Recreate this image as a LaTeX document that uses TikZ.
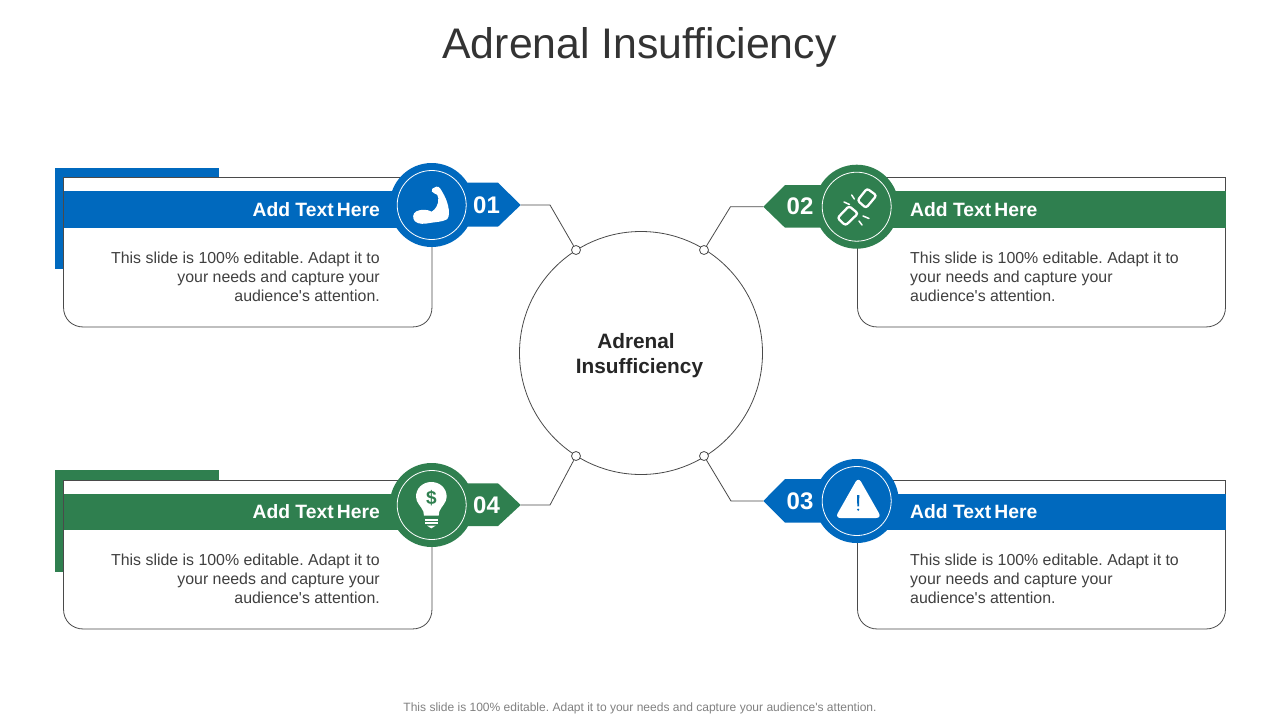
\documentclass[tikz,border=0pt]{standalone}
\usepackage{fontspec}
\setmainfont[Ligatures=TeXOff]{Liberation Sans}
\frenchspacing
\definecolor{cblue}{HTML}{0069BE}
\definecolor{cgreen}{HTML}{2F7F4F}
\definecolor{ink}{HTML}{404040}
\definecolor{edge}{HTML}{4A4A4A}
\newcommand{\addtext}{Add Text\hspace{-2.2pt} Here}
\newcommand{\bodytext}[1]{This slide is 100\% editable. Adapt it to\\your needs and capture your\\audience's attention.}
\tikzset{
 cardline/.style={draw=edge,fill=white,line width=0.8pt},
 wire/.style={draw=edge,line width=0.8pt},
 dot/.style={circle,draw=edge,fill=white,line width=0.8pt,minimum size=9pt,inner sep=0pt},
 hub/.style={circle,draw=edge,fill=white,line width=0.8pt,minimum size=243pt,inner sep=0pt},
 badge/.style={circle,minimum size=84pt,inner sep=0pt},
 ring/.style={circle,draw=white,line width=0.8pt,minimum size=69pt,inner sep=0pt},
 head/.style={text=white,font=\fontsize{19.3}{24}\selectfont\bfseries},
 num/.style={text=white,font=\fontsize{24}{28}\selectfont\bfseries},
 body/.style={text=ink,font=\fontsize{15.9}{19}\selectfont,inner sep=0pt},
 icon/.style={fill=white,draw=none},
 iconline/.style={draw=white,line width=1.5pt,line cap=round,line join=round},
 linkline/.style={draw=white,line width=2.3pt,rounded corners=2.5pt},
}
\begin{document}
\begin{tikzpicture}[x=1pt,y=-1pt]
\useasboundingbox (0,0) rectangle (1280,720);
\node[text=black!80,font=\fontsize{42.8}{52}\selectfont,inner sep=0pt] (title) at (639.5,47.5) {Adrenal Insufficiency};
\node[text=black!50,font=\fontsize{12.03}{14}\selectfont,inner sep=0pt] (foot) at (640,708) {This slide is 100\% editable. Adapt it to your needs and capture your audience's attention.};

% hub
\node[hub] (center) at (641,353) {};
\node[align=center,text=black!85,font=\fontsize{20.8}{25}\selectfont\bfseries,inner sep=0pt] (centertext) at (639.5,355.5) {Adrenal\hbox to 7pt{}\\Insufficiency};

% card 1
\fill[cblue] (55,168) rectangle (219,269);
\path[cardline] (63.5,177.5) -- (63.5,307) .. controls (63.5,319) and (72,327) .. (83.5,327) -- (412,327) .. controls (424,327) and (432,319) .. (432,307) -- (432,177.5) -- cycle;
\fill[cblue] (64,191) rectangle (400,228);
\fill[cblue] (450,182.7) -- (498,182.7) -- (520.7,205) -- (498,226.7) -- (450,226.7) -- cycle;
\coordinate (tip1) at (520.7,205);
\node[badge,fill=cblue] (b1) at (431.7,205) {};
\node[ring] (r1) at (b1) {};
\node[head,anchor=east,inner sep=0pt] (h1) at (380,209.7) {\addtext};
\node[num] (n1) at (486.5,205.5) {01};
\node[body,anchor=north east,align=right] (t1) at (380,252) {\bodytext{}};
\begin{scope}[shift={(405,178)},scale=1/3]
\path[icon] (82,32) .. controls (88,26) and (100,22) .. (106,32) .. controls (112,42) and (124,60) .. (129,82) .. controls (133,100) and (134,116) .. (126,124) .. controls (112,132) and (90,132) .. (74,135) .. controls (60,138) and (40,140) .. (30,130) .. controls (22,122) and (22,106) .. (34,100) .. controls (48,93) and (68,94) .. (80,101) .. controls (92,94) and (101,80) .. (100,60) .. controls (99,52) and (96,47) .. (88,46) .. controls (80,44) and (78,38) .. (82,32) -- cycle;
\end{scope}

% card 2
\path[cardline] (857.5,177.5) -- (857.5,307) .. controls (857.5,319) and (866,327) .. (877.5,327) -- (1205.5,327) .. controls (1217.5,327) and (1225.5,319) .. (1225.5,307) -- (1225.5,177.5) -- cycle;
\fill[cgreen] (880,191) rectangle (1226,228);
\fill[cgreen] (830,185) -- (785,185) -- (763.3,206.7) -- (785,227.7) -- (830,227.7) -- cycle;
\coordinate (tip2) at (763.3,206.7);
\node[badge,fill=cgreen] (b2) at (856.7,206.7) {};
\node[ring] (r2) at (b2) {};
\node[head,anchor=west,inner sep=0pt] (h2) at (910,209.7) {\addtext};
\node[num] (n2) at (800,206.5) {02};
\node[body,anchor=north west,align=left] (t2) at (910,252) {\bodytext{}};
\begin{scope}[shift={(830,180)}]
\draw[linkline] (27.5,20.5) -- (37,8.5) -- (46.5,15.5) -- (36,28) -- cycle;
\draw[linkline] (7.5,38) -- (19,26) -- (28,33.5) -- (15.5,45.5) -- cycle;
\draw[iconline] (21.7,15) -- (24.3,19);
\draw[iconline] (14,22) -- (19.5,24.5);
\draw[iconline] (33,36) -- (39,38.5);
\draw[iconline] (29,41) -- (32,45);
\end{scope}

% card 3
\path[cardline] (857.5,480.5) -- (857.5,609) .. controls (857.5,621) and (866,629) .. (877.5,629) -- (1205.5,629) .. controls (1217.5,629) and (1225.5,621) .. (1225.5,609) -- (1225.5,480.5) -- cycle;
\fill[cblue] (880,494) rectangle (1226,530);
\fill[cblue] (830,479) -- (785,479) -- (763.3,501) -- (785,522.7) -- (830,522.7) -- cycle;
\coordinate (tip3) at (763.3,501);
\node[badge,fill=cblue] (b3) at (856.7,501) {};
\node[ring] (r3) at (b3) {};
\node[head,anchor=west,inner sep=0pt] (h3) at (910,511.7) {\addtext};
\node[num] (n3) at (800,501.5) {03};
\node[body,anchor=north west,align=left] (t3) at (910,554) {\bodytext{}};
\begin{scope}[shift={(690,445)},scale=1/3]
\path[icon,rounded corners=5.5pt] (505,96) -- (575,219) -- (435,219) -- cycle;
\fill[cblue] (501,150) -- (508,150) -- (507,184) -- (502,184) -- cycle;
\fill[cblue] (504.5,194) circle (3.6);
\end{scope}

% card 4
\fill[cgreen] (55,470) rectangle (219,572);
\path[cardline] (63.5,480.5) -- (63.5,609) .. controls (63.5,621) and (72,629) .. (83.5,629) -- (412,629) .. controls (424,629) and (432,621) .. (432,609) -- (432,480.5) -- cycle;
\fill[cgreen] (64,494) rectangle (400,530);
\fill[cgreen] (450,483.3) -- (498,483.3) -- (520.7,505) -- (498,526) -- (450,526) -- cycle;
\coordinate (tip4) at (520.7,505);
\node[badge,fill=cgreen] (b4) at (431.7,505) {};
\node[ring] (r4) at (b4) {};
\node[head,anchor=east,inner sep=0pt] (h4) at (380,511.7) {\addtext};
\node[num] (n4) at (486.5,505.5) {04};
\node[body,anchor=north east,align=right] (t4) at (380,554) {\bodytext{}};
\begin{scope}[shift={(405,478)},scale=1/3]
\path[icon] (79,12) .. controls (52,12) and (33,32) .. (33,56) .. controls (33,74) and (48,84) .. (55,100) -- (57,113) -- (101,113) -- (103,100) .. controls (110,84) and (125,74) .. (125,56) .. controls (125,32) and (106,12) .. (79,12) -- cycle;
\path[icon] (60,122) -- (98,122) -- (98,128) -- (60,128) -- cycle;
\path[icon] (60,133) -- (98,133) -- (98,139) -- (60,139) -- cycle;
\path[icon] (66,143) -- (92,143) -- (79,151) -- cycle;
\end{scope}
\node[text=cgreen,font=\fontsize{19}{22}\selectfont\bfseries,inner sep=0pt] (d4) at (431.5,498.5) {\$};

% connectors
\node[dot] (d1) at (576,250) {};
\node[dot] (d2) at (704,250) {};
\node[dot] (d3) at (704,456) {};
\node[dot] (d4b) at (576,456) {};
\coordinate (e1) at (550,205);
\coordinate (e2) at (730.5,206.7);
\coordinate (e3) at (731,501);
\coordinate (e4) at (550,505);
\draw[wire] (tip1) -- (e1) -- (d1);
\draw[wire] (tip2) -- (e2) -- (d2);
\draw[wire] (tip3) -- (e3) -- (d3);
\draw[wire] (tip4) -- (e4) -- (d4b);
\end{tikzpicture}
\end{document}
